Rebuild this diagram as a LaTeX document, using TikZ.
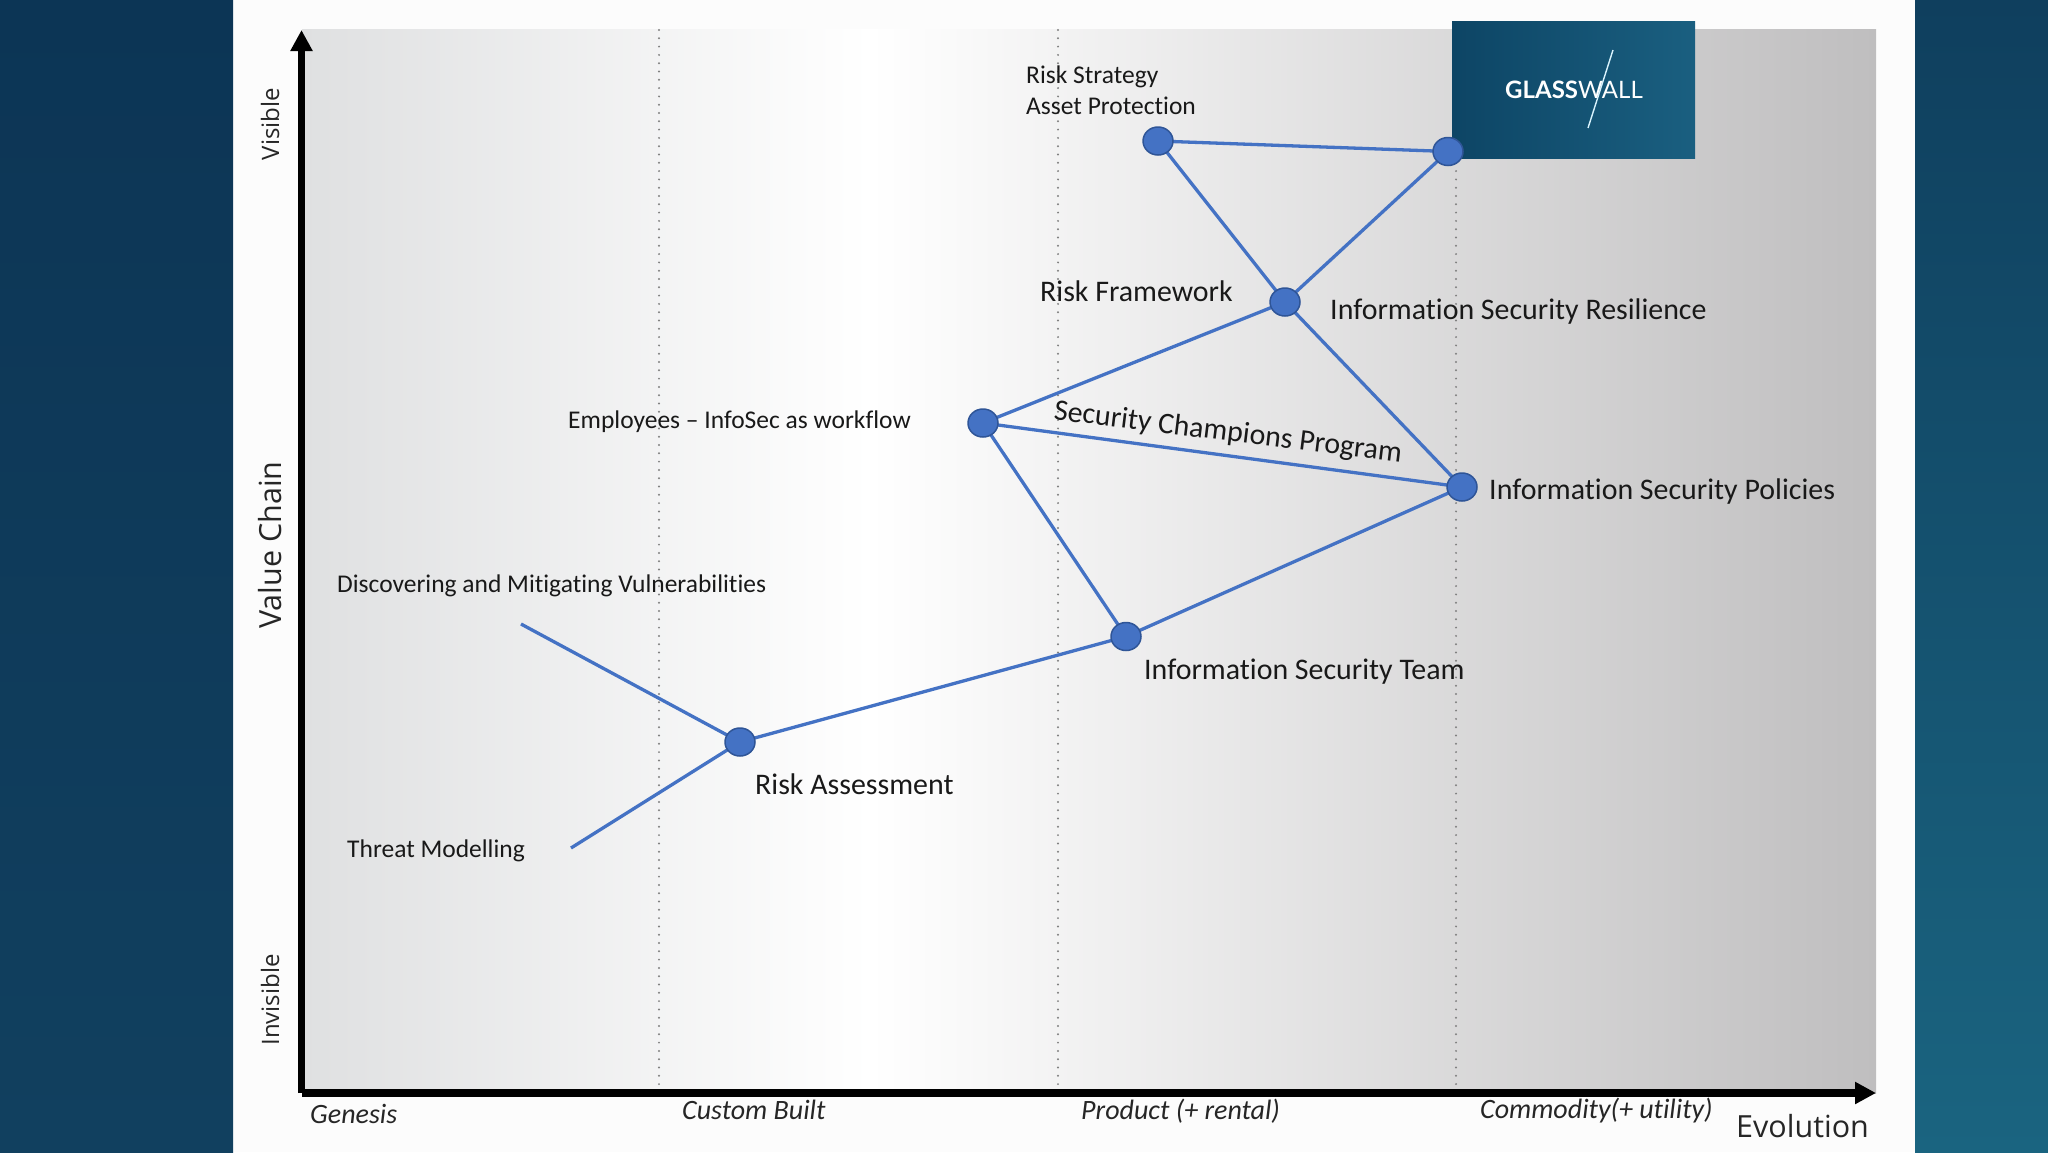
\documentclass[tikz,border=0pt]{standalone}
\usepackage{fontspec}
\setmainfont[Ligatures=CommonOff]{Carlito}
\newfontfamily\opensansf{Open Sans}
\newfontfamily\latof{Lato}
\usetikzlibrary{arrows.meta,shapes.geometric}
\pgfdeclarelayer{back}
\pgfdeclarelayer{edges}
\pgfsetlayers{back,edges,main}
\definecolor{bluefill}{HTML}{4472C4}
\definecolor{blueedge}{HTML}{2F5597}
\definecolor{bandlt}{HTML}{0C3555}
\definecolor{bandlb}{HTML}{11405F}
\definecolor{bandrt}{HTML}{0F3F5E}
\definecolor{bandrb}{HTML}{1A6480}
\definecolor{plotl}{HTML}{DFE0E1}
\definecolor{plotr}{HTML}{BFBEBF}
\definecolor{logol}{HTML}{0D4565}
\definecolor{logor}{HTML}{1A5F80}
\tikzset{
  x=1pt,y=-1pt,
  point/.style={ellipse,draw=blueedge,line width=1.5pt,fill=bluefill,minimum width=30pt,minimum height=28pt,inner sep=0pt},
  link/.style={draw=bluefill,line width=3.3pt},
  big/.style={anchor=west,inner sep=0pt,font=\fontsize{29.9}{35}\selectfont,text=black!90},
  small/.style={anchor=west,inner sep=0pt,font=\fontsize{25.5}{30}\selectfont,text=black!90},
  stage/.style={anchor=west,inner sep=0pt,font=\fontsize{28}{33}\selectfont\itshape,text=black!85},
  axis label/.style={inner sep=0pt,font=\opensansf\fontsize{30.5}{36}\selectfont,text=black!85},
  axis line/.style={line width=7.5pt,black},
  guide/.style={draw=black!50,line width=2.2pt,line cap=round,dash pattern=on 0pt off 8.3pt},
}
\begin{document}
\begin{tikzpicture}
\useasboundingbox (0,0) rectangle (2048,1152);
\begin{pgfonlayer}{back}
  \fill[white!99!black] (0,0) rectangle (2048,1152);
  \shade[top color=bandlt,bottom color=bandlb] (0,0) rectangle (233,1152);
  \shade[top color=bandrt,bottom color=bandrb] (1915,0) rectangle (2048,1152);
  \shade[left color=plotl,right color=white] (302,29) rectangle (870,1093);
  \shade[left color=white,right color=plotr] (870,29) rectangle (1876,1093);
  \foreach \gx in {659,1058,1456}{
    \draw[guide] (\gx,30) -- (\gx,1092);
  }
  \shade[left color=logol,right color=logor] (1452,21) rectangle (1695,158);
\end{pgfonlayer}

\node[point] (strategy) at (1158,141) {};
\node[point] (protection) at (1448,151.5) {};
\node[point] (framework) at (1285,302) {};
\node[point] (employees) at (983,423) {};
\node[point] (policies) at (1462,487) {};
\node[point] (team) at (1126,636.5) {};
\node[point] (assessment) at (740,742) {};
\coordinate (vuln) at (521,624);
\coordinate (threat) at (571,848);
\coordinate (origin) at (301.5,1093);
\coordinate (ytip) at (301.5,30);
\coordinate (xtip) at (1876,1093);

\begin{pgfonlayer}{edges}
  \draw[link] (strategy.center) -- (protection.center);
  \draw[link] (strategy.center) -- (framework.center);
  \draw[link] (protection.center) -- (framework.center);
  \draw[link] (framework.center) -- (employees.center);
  \draw[link] (framework.center) -- (policies.center);
  \draw[link] (employees.center) -- (policies.center);
  \draw[link] (employees.center) -- (team.center);
  \draw[link] (policies.center) -- (team.center);
  \draw[link] (team.center) -- (assessment.center);
  \draw[link] (assessment.center) -- (vuln);
  \draw[link] (assessment.center) -- (threat);
\end{pgfonlayer}

\draw[axis line,-{Triangle[length=21pt,width=21pt]}] (origin) -- (ytip);
\draw[axis line,-{Triangle[length=21pt,width=21pt]}] (origin) -- (xtip);

\node[small] (lrisk) at (1026,77) {Risk Strategy};
\node[small] (lasset) at (1026,106) {Asset Protection};
\node[big] (lframe) at (1040,291) {Risk Framework};
\node[big] (lres) at (1330,312) {Information Security Resilience};
\node[small] (lemp) at (568,422) {Employees – InfoSec as workflow};
\node[big,anchor=center,rotate=-7] (lchamp) at (1228,433) {Security Champions Program};
\node[big] (lpol) at (1489,492) {Information Security Policies};
\node[small] (ldisc) at (337,586) {Discovering and Mitigating Vulnerabilities};
\node[big] (lteam) at (1144,672) {Information Security Team};
\node[big] (lass) at (755,784) {Risk Assessment};
\node[small] (lthreat) at (347,851) {Threat Modelling};

\node[stage] (sgen) at (310,1114) {Genesis};
\node[stage] (scus) at (682,1110) {Custom Built};
\node[stage] (spro) at (1081,1111) {Product (+ rental)};
\node[stage] (scom) at (1480,1111) {Commodity(+ utility)};
\node[axis label,anchor=west] (levo) at (1736,1126) {Evolution};
\node[axis label,rotate=90] (lval) at (270,545) {Value Chain};
\node[axis label,rotate=90,font=\opensansf\fontsize{24}{29}\selectfont] (lvis) at (270,124) {Visible};
\node[axis label,rotate=90,font=\opensansf\fontsize{24}{29}\selectfont] (linv) at (270,1000) {Invisible};

\node[anchor=center,inner sep=0pt,text=white,font=\latof\fontsize{24}{29}\selectfont] (logo) at (1574,90) {\textbf{GLASS}WALL};
\coordinate (sa) at (1613,50);
\coordinate (sb) at (1588,128);
\draw[white!85!cyan,line width=1.4pt] (sa) -- (sb);
\end{tikzpicture}
\end{document}
